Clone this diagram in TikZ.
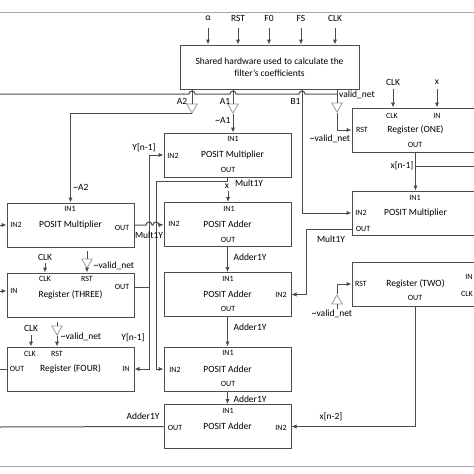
\documentclass[tikz,border=0pt]{standalone}
\usepackage{fontspec}
\setmainfont{Carlito}
\usetikzlibrary{arrows.meta,shapes.geometric}
\tikzset{
  blk/.style={draw=black!70, line width=1pt, minimum width=127pt, minimum height=44pt, inner sep=0pt, font=\fontsize{9.5}{11}\selectfont},
  port/.style={font=\fontsize{8}{9}\selectfont, inner sep=0pt},
  lbl/.style={font=\fontsize{9.5}{11}\selectfont, inner sep=0pt},
  wire/.style={draw=black!70, line width=1pt},
  arr/.style={wire, -{Latex[length=5pt,width=4.5pt]}},
  buf/.style={draw=black!40, line width=0.8pt, shape=regular polygon, regular polygon sides=3, shape border rotate=180, minimum size=12pt, inner sep=0pt},
  bufup/.style={buf, shape border rotate=0},
  frame/.style={draw=black!35, line width=1pt}
}
\begin{document}
\begin{tikzpicture}[x=1pt,y=-1pt]
  \useasboundingbox (0,0) rectangle (474,474);
  \draw[frame] (0,12) -- (474,12);
  \draw[frame] (0,466) -- (474,466);
  % blocks
  \node[blk, minimum width=179pt, align=center] (sh) at (269.5,67) {Shared hardware used to calculate the\\[1pt]filter’s coefficients};
  \node[blk] (reg1) at (415.5,130) {Register (ONE)};
  \node[blk] (mulR) at (415.5,213) {POSIT Multiplier};
  \node[blk] (reg2) at (415.5,284) {Register (TWO)};
  \node[blk] (mul1) at (227.5,155) {\hspace{10pt}POSIT Multiplier};
  \node[blk] (add1) at (227.5,224.5) {POSIT Adder};
  \node[blk] (add2) at (227.5,294.5) {POSIT Adder};
  \node[blk] (add3) at (227.5,369) {POSIT Adder};
  \node[blk] (add4) at (227.5,426.5) {POSIT Adder};
  \node[blk] (mulL) at (70.5,225) {POSIT Multiplier};
  \node[blk] (reg3) at (70.5,295) {Register (THREE)};
  \node[blk] (reg4) at (70.5,369) {Register (FOUR)};
  % port names
  \foreach \n/\x/\y/\t in {m1a/233/139/IN1, m1b/173/156/IN2, m1o/228/170/OUT,
    a1a/229/209/IN1, a1b/174/224/IN2, a1o/228/240/OUT,
    a2a/228/279/IN1, a2b/281/295/IN2, a2o/228/309/OUT,
    a3a/228/353/IN1, a3b/175/370/IN2, a3o/228/384/OUT,
    a4a/228/411/IN1, a4o/175/428/OUT, a4b/281/428/IN2,
    mLa/70/209/IN1, mLb/16/225/IN2, mLo/122/228/OUT,
    r3c/45/279/CLK, r3r/87/279/RST, r3i/14/291/IN, r3o/122/287/OUT,
    r4c/30/354/CLK, r4r/57/354/RST, r4o/17/369/OUT, r4i/126/369/IN,
    r1c/392/116/CLK, r1i/437/116/IN, r1r/362/130/RST, r1o/415/145/OUT,
    mRa/415/198/IN1, mRb/361/213/IN2, mRo/363/229/OUT,
    r2r/361/284/RST, r2o/415/298/OUT, r2i/469/277/IN, r2c/467/294/CLK}
    \node[port] (p\n) at (\x,\y) {\t};
  % inputs of the shared hardware
  \foreach \x/\t/\n in {208/α/al, 238/RST/rs, 269/F0/fz, 301/FS/fs, 335/CLK/ck}{
    \node[lbl] (in\n) at (\x,18) {\t};
    \coordinate (s\n) at (\x,28);
    \draw[arr] (s\n) -- (s\n |- sh.north);
  }
  % line under the shared hardware
  \coordinate (fbL) at (0,94);
  \node[buf] (trA2) at (192,107) {};
  \node[buf] (trA1) at (233,107) {};
  \node[buf] (trV) at (337,106) {};
  \coordinate (b1) at (302,89);
  \draw[wire] (fbL) -- (189,94) arc[start angle=180,end angle=0,radius=3pt]
    -- (230,94) arc[start angle=180,end angle=0,radius=3pt]
    -- (299,94) arc[start angle=180,end angle=0,radius=3pt] -- (trV |- fbL);
  \draw[wire] (sh.south -| trA2) -- (trA2.north);
  \draw[wire] (sh.south -| trA1) -- (trA1.north);
  \draw[wire] (sh.south -| trV) -- (trV.north);
  \node[lbl] (lA2) at (182,101) {A2};
  \node[lbl] (lA1) at (225,101) {A1};
  \node[lbl] (lB1) at (295.5,101) {B1};
  \node[lbl] (lv) at (357,95) {valid\_net};
  \draw[arr] (trA2.south) -| (mulL.north);
  \node[lbl] (lnA2) at (81,187) {\textasciitilde A2};
  \draw[arr] (trA1.south) -- (trA1 |- mul1.north);
  \node[lbl] (lnA1) at (223,120) {\textasciitilde A1};
  \draw[arr] (b1) |- (mulR.west);
  \draw[arr] (trV.south) |- (reg1.west);
  \node[lbl] (lnv) at (330,139) {\textasciitilde valid\_net};
  % register one
  \node[lbl] (lck1) at (393,82) {CLK};
  \node[lbl] (lx1) at (437,82) {x};
  \coordinate (c1) at (393,89);
  \coordinate (x1) at (437,89);
  \draw[arr] (c1) -- (c1 |- reg1.north);
  \draw[arr] (x1) -- (x1 |- reg1.north);
  \draw[arr] (reg1.south) -- (mulR.north);
  \coordinate (xj) at (415.5,166);
  \coordinate (xr) at (474,166);
  \draw[wire] (xj) -- (xr);
  \node[lbl] (lxn1) at (402,166) {x[n-1]};
  % right multiplier
  \coordinate (mRout) at (352,229);
  \coordinate (mRj) at (306,229);
  \draw[arr] (mRout) -- (mRj) |- (add2.east);
  \node[lbl] (lmR) at (331,239) {Mult1Y};
  % register two
  \node[bufup] (tr2) at (337,301) {};
  \coordinate (v2) at (337,309);
  \draw[wire] (v2) -- (tr2.south);
  \draw[arr] (tr2.north) |- (reg2.west);
  \node[lbl] (lnv2) at (332,314) {\textasciitilde valid\_net};
  \draw[arr] (reg2.south) |- (add4.east);
  \node[lbl] (lxn2) at (331,417) {x[n-2]};
  % middle column
  \coordinate (r3out) at (134,287);
  \coordinate (yj) at (149,287);
  \draw[wire] (r3out) -- (yj);
  \draw[arr] (yj) |- (mul1.west);
  \draw[arr] (yj) |- (reg4.east);
  \node[lbl] (ly1) at (144,148) {Y[n-1]};
  \node[lbl] (ly2) at (133,338) {Y[n-1]};
  \coordinate (m1j) at (156,181);
  \draw[arr] (mul1.south) |- (m1j) |- (add3.west);
  \node[lbl] (lm1) at (249,183) {Mult1Y};
  \coordinate (a1x) at (228,191);
  \draw[arr] (a1x) -- (a1x |- add1.north);
  \node[lbl] (lx) at (227,186) {x};
  \draw[arr] (mulL.east) -- (146,225) arc[start angle=180,end angle=0,radius=3pt]
    -- (153,225) arc[start angle=180,end angle=0,radius=3pt] -- (add1.west);
  \node[lbl] (lmL) at (149,235) {Mult1Y};
  \foreach \a/\b/\y in {add1/add2/257, add2/add3/327, add3/add4/399}{
    \draw[arr] (\a.south) -- (\b.north);
    \node[lbl] (l\a) at (250,\y) {Adder1Y};
  }
  \coordinate (a4out) at (0,427);
  \draw[wire] (add4.west) -- (a4out);
  \node[lbl] (la4) at (143,416) {Adder1Y};
  % left column
  \coordinate (mLin) at (0,225);
  \draw[arr] (mLin) -- (mulL.west);
  \coordinate (r3in) at (0,291);
  \draw[arr] (r3in) -- (r3in -| reg3.west);
  \node[lbl] (lck3) at (45,257) {CLK};
  \coordinate (c3) at (45,263);
  \draw[arr] (c3) -- (c3 |- reg3.north);
  \node[buf] (tr3) at (87,262) {};
  \coordinate (v3) at (87,251);
  \draw[wire] (v3) -- (tr3.north);
  \draw[arr] (tr3.south) -- (tr3 |- reg3.north);
  \node[lbl] (lnv3) at (114,266) {\textasciitilde valid\_net};
  \node[lbl] (lck4) at (31,328) {CLK};
  \coordinate (c4) at (31,335);
  \draw[arr] (c4) -- (c4 |- reg4.north);
  \node[buf] (tr4) at (57,329) {};
  \coordinate (v4) at (57,322);
  \draw[wire] (v4) -- (tr4.north);
  \draw[arr] (tr4.south) -- (tr4 |- reg4.north);
  \node[lbl] (lnv4) at (81,337) {\textasciitilde valid\_net};
  \coordinate (r4out) at (0,369);
  \draw[wire] (reg4.west) -- (r4out);
\end{tikzpicture}
\end{document}
